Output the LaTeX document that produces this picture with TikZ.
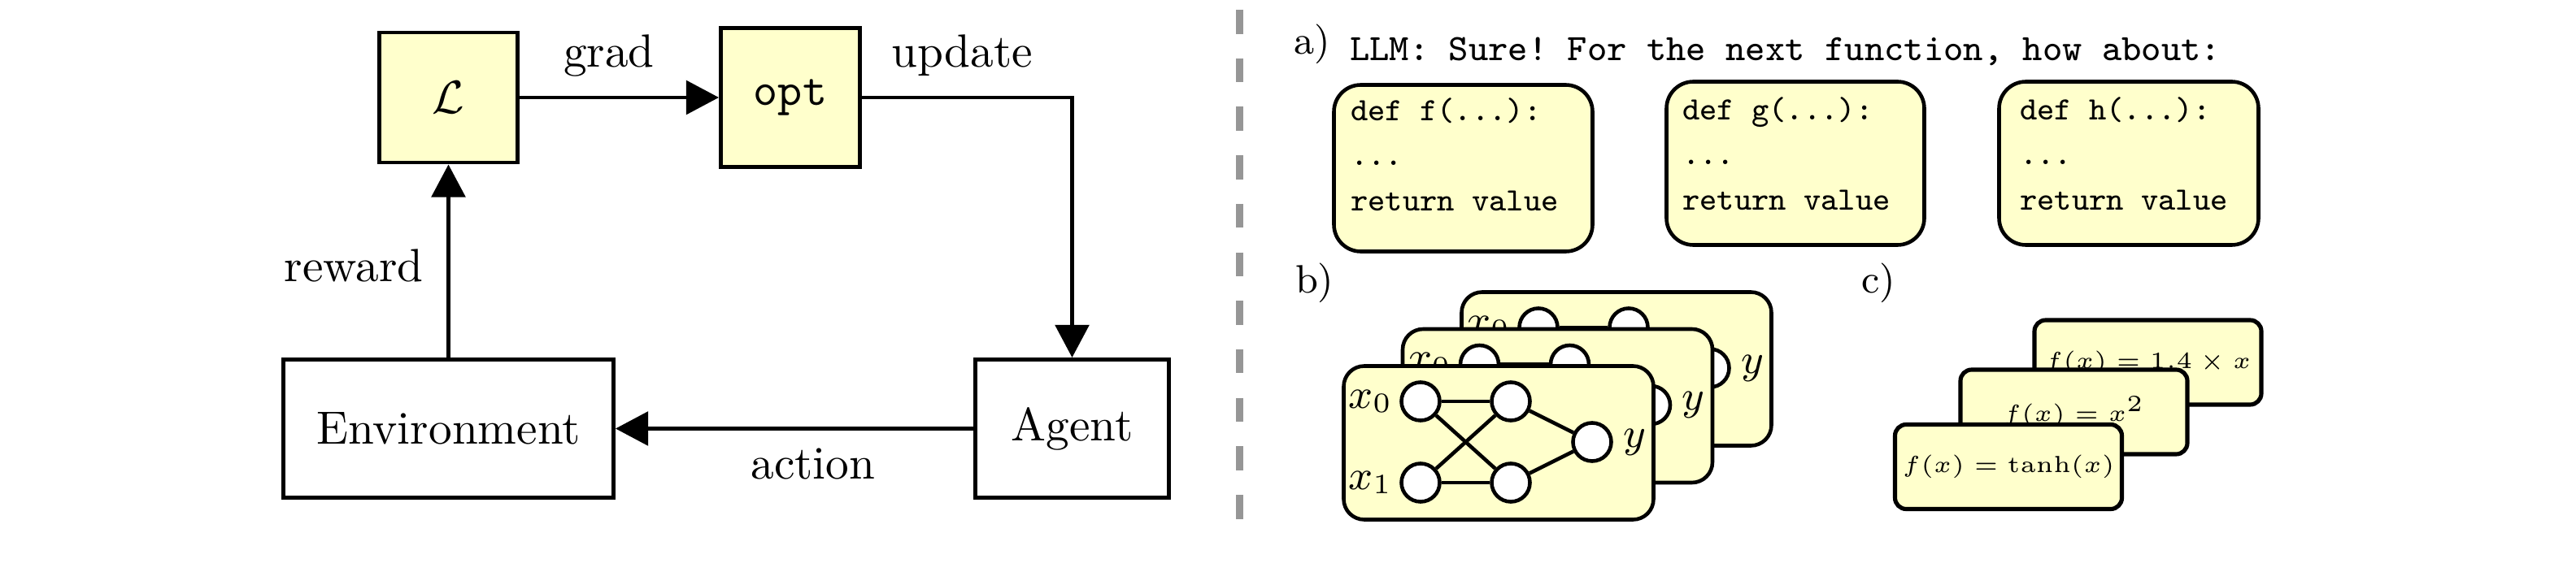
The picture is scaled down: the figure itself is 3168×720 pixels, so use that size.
\documentclass[tikz,border=0pt]{standalone}
\usetikzlibrary{arrows.meta}
\newcommand\pxu{0.17452pt}
\definecolor{boxyellow}{RGB}{255,255,204}
\definecolor{dashgray}{RGB}{150,150,150}
\begin{document}
\begin{tikzpicture}[x=0.17452pt, y=-0.17452pt,
  box/.style={draw, line width=0.85pt, inner sep=0pt, font=\fontsize{10}{12}\selectfont},
  ybox/.style={box, fill=boxyellow},
  arr/.style={line width=0.85pt, -{Triangle[length=7pt,width=7.2pt]}},
  elabel/.style={inner sep=0pt, anchor=base, font=\fontsize{10}{12}\selectfont},
  panellabel/.style={inner sep=0pt, anchor=base west, font=\fontsize{8.5}{10}\selectfont},
  codebox/.style={draw, line width=0.8pt, fill=boxyellow, rounded corners=5.76pt, inner sep=0pt},
  codetext/.style={anchor=north west, align=left, inner sep=0pt, font=\fontsize{7}{9.6}\selectfont\ttfamily},
  nncard/.style={draw, line width=0.8pt, fill=boxyellow, rounded corners=4.4pt, inner sep=0pt,
    minimum width=381*\pxu, minimum height=189*\pxu},
  neuron/.style={circle, draw, line width=0.8pt, fill=white, inner sep=0pt, minimum size=47*\pxu},
  nnedge/.style={line width=0.8pt},
  nnlabel/.style={inner sep=0pt, font=\small},
  fcard/.style={draw, line width=0.9pt, fill=boxyellow, rounded corners=2.4pt, inner sep=0pt,
    minimum width=279*\pxu, minimum height=104*\pxu, font=\tiny},
  divider/.style={draw=dashgray, line width=1.66pt, dash pattern=on 5.15pt off 5.27pt}
]
\useasboundingbox (0,0) rectangle (3168,720);

% ---------- left: RL loop ----------
\node[ybox, minimum width=170*\pxu, minimum height=160*\pxu] (L) at (551.5,120) {$\mathcal{L}$};
\node[ybox, minimum width=171*\pxu, minimum height=171*\pxu] (opt) at (972,120) {\texttt{opt}};
\node[box, minimum width=406*\pxu, minimum height=170*\pxu] (env) at (551.5,527.5) {Environment};
\node[box, minimum width=238*\pxu, minimum height=170*\pxu] (agent) at (1318.5,527.5) {Agent};

\draw[arr] (L.east) -- (opt.west);
\draw[arr] (opt.east) -| (agent.north);
\draw[arr] (agent.west) -- (env.east);
\draw[arr] (env.north) -- (L.south);

\node[elabel] (tgrad) at (749,83) {grad};
\node[elabel] (tupdate) at (1183,83) {update};
\node[elabel] (treward) at (435,347) {reward};
\node[elabel] (taction) at (1000,590) {action};

% ---------- divider ----------
\coordinate (dtop) at (1524.5,12);
\coordinate (dbot) at (1524.5,640);
\draw[divider] (dtop) -- (dbot);

% ---------- a) ----------
\node[panellabel] (la) at (1590,67) {a)};
\node[anchor=base west, inner sep=0pt, font=\fontsize{8}{9.6}\selectfont\ttfamily\frenchspacing] (llm) at (1659,75) {LLM: Sure! For the next function, how about:};

\node[codebox, minimum width=318*\pxu, minimum height=205*\pxu] (cf) at (1799.5,207) {};
\node[codebox, minimum width=317*\pxu, minimum height=201*\pxu] (cg) at (2208,201) {};
\node[codebox, minimum width=319*\pxu, minimum height=201*\pxu] (ch) at (2618,201) {};
\node[codetext] (tf) at (1660,120) {def f(...):\\...\\return value};
\node[codetext] (tg) at (2068,119) {def g(...):\\...\\return value};
\node[codetext] (th) at (2483,119) {def h(...):\\...\\return value};

% ---------- b) ----------
\node[panellabel] (lb) at (1592,361) {b)};
\foreach \i/\dx/\dy in {3/145/-91, 2/72.5/-45.5, 1/0/0} {
  \begin{scope}[shift={(\dx,\dy)}]
    \node[nncard] (nn\i) at (1843,545) {};
    \node[neuron] (xa\i) at (1747,494) {};
    \node[neuron] (xb\i) at (1747,594) {};
    \node[neuron] (ha\i) at (1858,494) {};
    \node[neuron] (hb\i) at (1858,594) {};
    \node[neuron] (yo\i) at (1958,544) {};
    \draw[nnedge] (xa\i) -- (ha\i);
    \draw[nnedge] (xa\i) -- (hb\i);
    \draw[nnedge] (xb\i) -- (ha\i);
    \draw[nnedge] (xb\i) -- (hb\i);
    \draw[nnedge] (ha\i) -- (yo\i);
    \draw[nnedge] (hb\i) -- (yo\i);
    \node[nnlabel, anchor=east] (lxa\i) at ([xshift=-1.3pt]xa\i.west) {$x_0$};
    \node[nnlabel, anchor=east] (lxb\i) at ([xshift=-1.3pt]xb\i.west) {$x_1$};
    \node[nnlabel, anchor=west] (lyo\i) at ([xshift=2pt]yo\i.east) {$y$};
  \end{scope}
}

% ---------- c) ----------
\node[panellabel] (lc) at (2288,361) {c)};
\node[fcard] (fc3) at (2641.5,446) {$f(x) = 1.4\times x$};
\node[fcard] (fc2) at (2550.5,507) {$f(x) = x^2$};
\node[fcard] (fc1) at (2470,574.5) {$f(x) = \tanh(x)$};
\end{tikzpicture}
\end{document}
